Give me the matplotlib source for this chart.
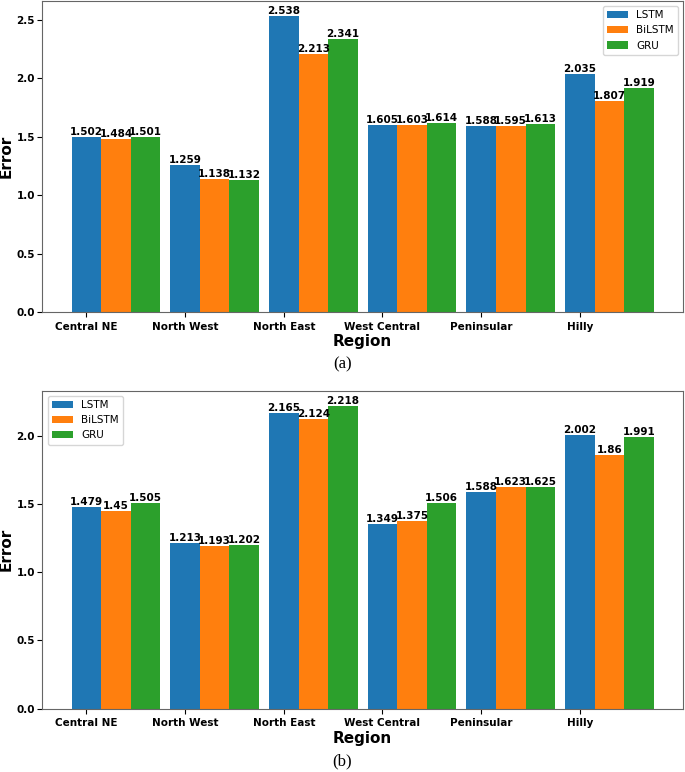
import numpy as np
import matplotlib
matplotlib.use("Agg")
import matplotlib.pyplot as plt

regions = ["Central NE", "North West", "North East", "West Central", "Peninsular", "Hilly"]
models = ["LSTM", "BiLSTM", "GRU"]
colors = ["#1f77b4", "#ff7f0e", "#2ca02c"]

# panel (a)
lstm_a = [1.502, 1.259, 2.538, 1.605, 1.588, 2.035]
bilstm_a = [1.484, 1.138, 2.213, 1.603, 1.595, 1.807]
gru_a = [1.501, 1.132, 2.341, 1.614, 1.613, 1.919]

# panel (b)
lstm_b = [1.479, 1.213, 2.165, 1.349, 1.588, 2.002]
bilstm_b = [1.45, 1.193, 2.124, 1.375, 1.623, 1.86]
gru_b = [1.505, 1.202, 2.218, 1.506, 1.625, 1.991]

panels = [
    ("(a)", [lstm_a, bilstm_a, gru_a], "upper right"),
    ("(b)", [lstm_b, bilstm_b, gru_b], "upper left"),
]

fig = plt.figure(figsize=(6.85, 7.72), dpi=100)
boxes = [[0.062, 0.596, 0.935, 0.403], [0.062, 0.082, 0.935, 0.412]]
caption_y = [0.523, 0.008]

x = np.arange(len(regions))
w = 0.3
for k, (tag, series, loc) in enumerate(panels):
    ax = fig.add_axes(boxes[k])
    for i, vals in enumerate(series):
        bars = ax.bar(x + i * w, vals, w, color=colors[i], label=models[i])
        for b, v in zip(bars, vals):
            ax.text(b.get_x() + b.get_width() / 2, v, str(v), ha="center",
                    va="bottom", fontsize=7.5, fontweight="bold")
    ax.set_xticks(x)
    ax.set_xticklabels(regions, fontsize=7.5, fontweight="bold")
    ax.tick_params(axis="y", pad=2)
    for t in ax.get_yticklabels():
        t.set_fontweight("bold")
        t.set_fontsize(7.5)
    ax.set_xlabel("Region", fontsize=11, fontweight="bold", labelpad=2)
    ax.set_ylabel("Error", fontsize=11, fontweight="bold", labelpad=2)
    for s in ax.spines.values():
        s.set_color("#666666")
    ax.legend(loc=loc, fontsize=7.5)
    fig.text(0.5, caption_y[k], tag, ha="center", fontsize=12, family="Liberation Serif")

fig.savefig("out.png")
